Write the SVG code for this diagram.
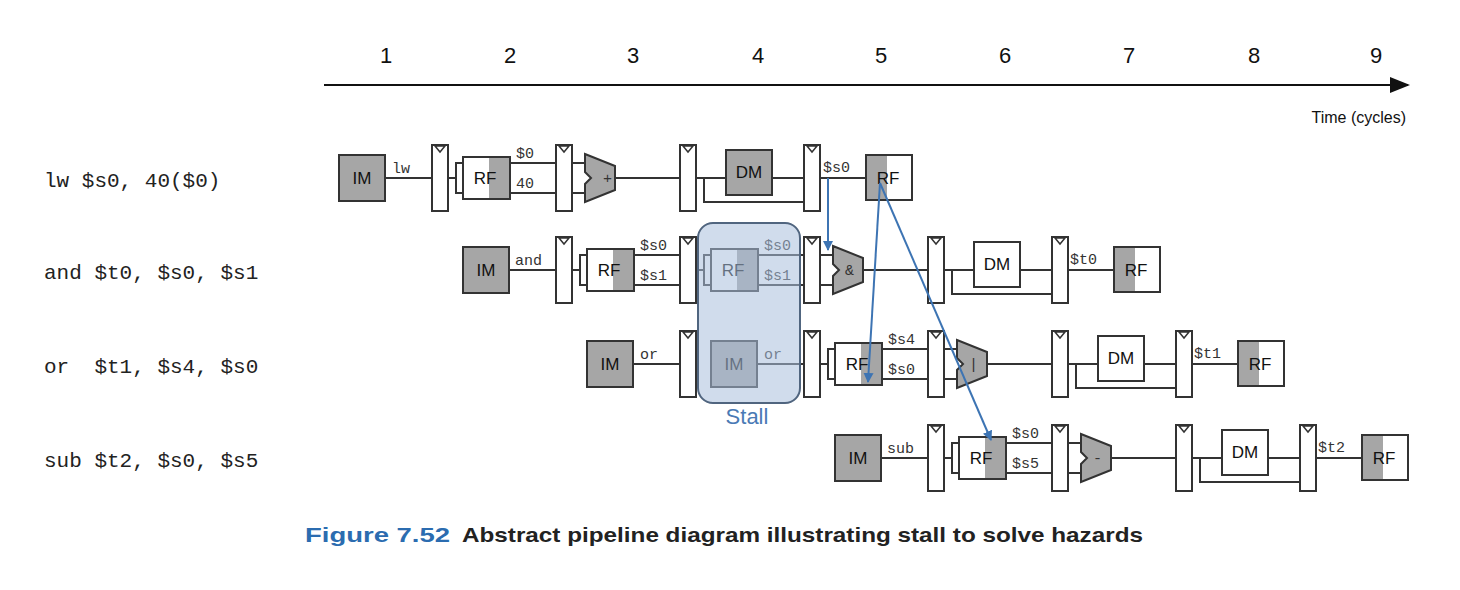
<svg xmlns="http://www.w3.org/2000/svg" xmlns:xlink="http://www.w3.org/1999/xlink" width="1460" height="590" viewBox="0 0 1460 590">
<style>
.w{stroke:#333;stroke-width:2;fill:none}
.box{stroke:#333;stroke-width:2;fill:#fff}
.g{fill:#a6a6a6}
.lb{font-family:"Liberation Sans",Arial,sans-serif;font-size:17px;fill:#111;text-anchor:middle}
.m{font-family:"Liberation Mono","Courier New",monospace;font-size:15px;fill:#333}
.ins{font-family:"Liberation Mono","Courier New",monospace;font-size:21px;fill:#222;white-space:pre}
.num{font-family:"Liberation Sans",Arial,sans-serif;font-size:22px;fill:#111;text-anchor:middle}
.blue{stroke:#3d74b3;stroke-width:2;fill:none;marker-end:url(#ab)}
</style>
<defs>
<marker id="ab" markerWidth="10" markerHeight="10" refX="9" refY="5" orient="auto" markerUnits="userSpaceOnUse" viewBox="0 0 10 10"><path d="M0,0 L10,5 L0,10 Z" fill="#3d74b3"/></marker>
<marker id="ak" markerWidth="20" markerHeight="16" refX="18" refY="8" orient="auto" markerUnits="userSpaceOnUse"><path d="M0,0 L20,8 L0,16 Z" fill="#111"/></marker>
<g id="reg"><rect x="0" y="-33" width="16" height="66" class="box"/><path d="M3,-32 L13,-32 L8,-26 Z" fill="#fff" stroke="#333" stroke-width="1.5"/></g>
<g id="im"><rect x="0" y="-23" width="46" height="46" fill="#a6a6a6" stroke="#333" stroke-width="2"/><text x="23" y="6" class="lb">IM</text></g>
<g id="rfr"><rect x="-7" y="-15" width="7" height="30" class="box"/><rect x="0" y="-21" width="47" height="42" fill="#fff"/><rect x="26" y="-21" width="21" height="42" class="g"/><rect x="0" y="-21" width="47" height="42" class="w"/><text x="22" y="6" class="lb">RF</text></g>
<g id="rfw"><rect x="0" y="-23" width="46" height="45" fill="#fff"/><rect x="0" y="-23" width="21" height="45" class="g"/><rect x="0" y="-23" width="46" height="45" class="w"/><text x="22" y="6" class="lb">RF</text></g>
<path id="alu" d="M0,-24 L30,-12 L30,12 L0,24 L0,6 L6,0 L0,-6 Z" fill="#a6a6a6" stroke="#333" stroke-width="2"/>
<g id="dm"><rect x="0" y="-28" width="46" height="45" class="box"/><text x="23" y="-0" class="lb">DM</text></g>
<g id="dmg"><rect x="0" y="-28" width="46" height="45" fill="#a6a6a6" stroke="#333" stroke-width="2"/><text x="23" y="0" class="lb">DM</text></g>
</defs>

<g id="timeline">
<line x1="324" y1="85" x2="1408" y2="85" stroke="#111" stroke-width="2" marker-end="url(#ak)"/>
<text x="386" y="63" class="num">1</text><text x="510" y="63" class="num">2</text><text x="633" y="63" class="num">3</text><text x="758" y="63" class="num">4</text><text x="881" y="63" class="num">5</text><text x="1005" y="63" class="num">6</text><text x="1129" y="63" class="num">7</text><text x="1254" y="63" class="num">8</text><text x="1376" y="63" class="num">9</text>
<text x="1406" y="123" font-family="Liberation Sans,Arial,sans-serif" font-size="16" fill="#111" text-anchor="end">Time (cycles)</text>
</g>

<g id="labels">
<text x="44" y="187" class="ins">lw $s0, 40($0)</text>
<text x="44" y="279" class="ins">and $t0, $s0, $s1</text>
<text x="44" y="373" class="ins" xml:space="preserve">or  $t1, $s4, $s0</text>
<text x="44" y="467" class="ins">sub $t2, $s0, $s5</text>
</g>

<g id="connectors">
<!-- row1 Y=178 -->
<path class="w" d="M385,178 H432 M448,178 H456 M510,163 H556 M510,193 H556 M572,163 H585 M572,193 H585 M615,178 H680 M696,178 H726 M704,178 V202 H804 M772,178 H804 M820,178 H866"/>
<!-- row2 Y=270 -->
<path class="w" d="M509,270 H556 M572,270 H580 M634,255 H680 M634,285 H680 M696,270 H704 M758,255 H804 M758,285 H804 M820,255 H833 M820,285 H833 M863,270 H928 M944,270 H974 M952,270 V294 H1052 M1020,270 H1052 M1068,270 H1114"/>
<!-- row3 Y=364 -->
<path class="w" d="M633,364 H680 M757,364 H804 M820,364 H828 M882,349 H928 M882,379 H928 M944,349 H957 M944,379 H957 M987,364 H1052 M1068,364 H1098 M1076,364 V388 H1176 M1144,364 H1176 M1192,364 H1238"/>
<!-- row4 Y=458 -->
<path class="w" d="M881,458 H928 M944,458 H952 M1006,443 H1052 M1006,473 H1052 M1068,443 H1081 M1068,473 H1081 M1111,458 H1176 M1192,458 H1222 M1200,458 V482 H1300 M1268,458 H1300 M1316,458 H1362"/>
</g>

<g id="row1">
<use href="#im" x="339" y="178"/><text x="392" y="173" class="m">lw</text>
<use href="#reg" x="432" y="178"/>
<use href="#rfr" x="463" y="178"/><text x="516" y="158" class="m">$0</text><text x="516" y="188" class="m">40</text>
<use href="#reg" x="556" y="178"/>
<use href="#alu" x="585" y="178"/><text x="603" y="183" class="m" font-size="13">+</text>
<use href="#reg" x="680" y="178"/>
<use href="#dmg" x="726" y="178"/>
<use href="#reg" x="804" y="178"/><text x="823" y="172" class="m">$s0</text>
<use href="#rfw" x="866" y="178"/>
</g>

<g id="row2">
<use href="#im" x="463" y="270"/><text x="515" y="265" class="m">and</text>
<use href="#reg" x="556" y="270"/>
<use href="#rfr" x="587" y="270"/><text x="640" y="250" class="m">$s0</text><text x="640" y="280" class="m">$s1</text>
<use href="#reg" x="680" y="270"/>
<use href="#rfr" x="711" y="270"/><text x="764" y="250" class="m">$s0</text><text x="764" y="280" class="m">$s1</text>
<use href="#reg" x="804" y="270"/>
<use href="#alu" x="833" y="270"/><text x="845" y="275" class="m" font-size="13">&amp;</text>
<use href="#reg" x="928" y="270"/>
<use href="#dm" x="974" y="270"/>
<use href="#reg" x="1052" y="270"/><text x="1070" y="264" class="m">$t0</text>
<use href="#rfw" x="1114" y="270"/>
</g>

<g id="row3">
<use href="#im" x="587" y="364"/><text x="640" y="359" class="m">or</text>
<use href="#reg" x="680" y="364"/>
<use href="#im" x="711" y="364"/><text x="764" y="359" class="m">or</text>
<use href="#reg" x="804" y="364"/>
<use href="#rfr" x="835" y="364"/><text x="888" y="344" class="m">$s4</text><text x="888" y="374" class="m">$s0</text>
<use href="#reg" x="928" y="364"/>
<use href="#alu" x="957" y="364"/><text x="969" y="369" class="m" font-size="13">|</text>
<use href="#reg" x="1052" y="364"/>
<use href="#dm" x="1098" y="364"/>
<use href="#reg" x="1176" y="364"/><text x="1194" y="358" class="m">$t1</text>
<use href="#rfw" x="1238" y="364"/>
</g>

<g id="row4">
<use href="#im" x="835" y="458"/><text x="887" y="453" class="m">sub</text>
<use href="#reg" x="928" y="458"/>
<use href="#rfr" x="959" y="458"/><text x="1012" y="438" class="m">$s0</text><text x="1012" y="468" class="m">$s5</text>
<use href="#reg" x="1052" y="458"/>
<use href="#alu" x="1081" y="458"/><text x="1093" y="463" class="m" font-size="13">-</text>
<use href="#reg" x="1176" y="458"/>
<use href="#dm" x="1222" y="458"/>
<use href="#reg" x="1300" y="458"/><text x="1318" y="452" class="m">$t2</text>
<use href="#rfw" x="1362" y="458"/>
</g>

<g id="stall">
<rect x="698" y="223" width="102" height="180" rx="15" fill="#a9bfdc" fill-opacity="0.55" stroke="#50657f" stroke-width="2"/>
<text x="747" y="424" font-family="Liberation Sans,Arial,sans-serif" font-size="22" fill="#4a7ab5" text-anchor="middle">Stall</text>
</g>

<g id="forwarding">
<path class="blue" d="M828,178 V250"/>
<path class="blue" d="M880,183 L868,382"/>
<path class="blue" d="M880,183 L991,440"/>
</g>

<g id="caption">
<text x="305" y="542" font-family="Liberation Sans,Arial,sans-serif" font-size="21" font-weight="bold" fill="#2b6cb0" textLength="145" lengthAdjust="spacingAndGlyphs">Figure 7.52</text>
<text x="462" y="542" font-family="Liberation Sans,Arial,sans-serif" font-size="21" font-weight="bold" fill="#222" textLength="681" lengthAdjust="spacingAndGlyphs">Abstract pipeline diagram illustrating stall to solve hazards</text>
</g>
</svg>
